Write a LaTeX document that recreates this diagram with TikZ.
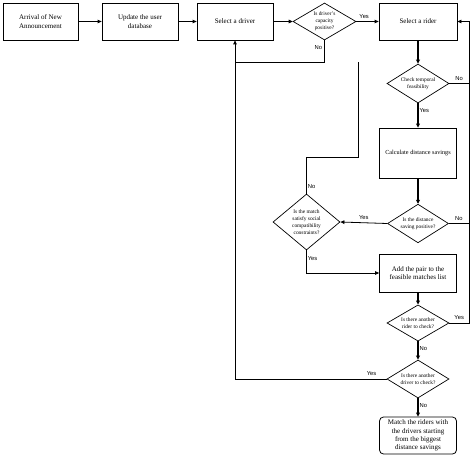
\documentclass[tikz,border=0pt]{standalone}
\usepackage{fontspec}
\setmainfont{Liberation Serif}
\setsansfont{Liberation Sans}
\usetikzlibrary{shapes.geometric,arrows.meta}
\tikzset{
  box/.style={draw, line width=0.8pt, minimum width=76pt, minimum height=37pt, inner sep=1pt, align=center, font=\fontsize{7}{8.3}\selectfont},
  dia/.style={diamond, draw, line width=0.7pt, inner sep=-2pt, align=center, font=\fontsize{5.4}{6.8}\selectfont},
  lbl/.style={font=\sffamily\fontsize{5.8}{6}\selectfont, inner sep=0pt},
  arr/.style={line width=0.8pt, -{Triangle[length=4pt,width=3.6pt]}},
  varr/.style={line width=1.2pt, -{Triangle[length=4pt,width=3.8pt]}},
  ln/.style={line width=0.8pt},
}
\begin{document}
\begin{tikzpicture}[x=1pt,y=-1pt]
\useasboundingbox (0,0) rectangle (474,460);
% top row
\node[box, minimum width=75pt] (n1) at (40.5,21.5) {Arrival of New\\Announcement};
\node[box] (n2) at (140,21.5) {Update the user\\database};
\node[box] (n3) at (235,21.5) {Select a driver};
\node[dia, minimum width=63pt, minimum height=37pt] (d1) at (324.5,21.5) {Is driver's\\capacity\\positive?};
\node[box, minimum width=78pt] (n4) at (418,21.5) {Select a rider};
% right column
\node[dia, minimum width=62pt, minimum height=39pt] (d2) at (418,83.5) {Check temporal\\feasibility};
\node[box, minimum width=77pt, minimum height=50pt, font=\fontsize{6.2}{7.5}\selectfont] (n5) at (418,153) {Calculate distance savings};
\node[dia, minimum width=61pt, minimum height=37pt] (d3) at (418,223.5) {Is the distance\\saving positive?};
\node[dia, minimum width=67pt, minimum height=56pt] (d4) at (306.5,222) {Is the match\\satisfy social\\compatibility\\constraints?};
\node[box, minimum width=77pt, minimum height=38pt] (n6) at (418,273) {Add the pair to the\\feasible matches list};
\node[dia, minimum width=62pt, minimum height=36pt] (d5) at (418,323) {Is there another\\rider to check?};
\node[dia, minimum width=62pt, minimum height=38pt] (d6) at (418,379) {Is there another\\driver to check?};
\node[box, rounded corners=4pt, minimum width=77pt, minimum height=37pt] (n7) at (418,435.5) {Match the riders with\\the drivers starting\\from the biggest\\distance savings};
% helper coordinates
\coordinate (c1) at (235,62);
\coordinate (c2) at (358,62);
\coordinate (c3) at (358,157);
\coordinate (c4) at (469,21.5);
% connectors
\draw[arr] (n1) -- (n2);
\draw[arr] (n2) -- (n3);
\draw[arr] (n3) -- (d1);
\draw[arr] (d1.east) -- node[lbl, above=3pt, pos=0.35] {Yes} (n4.west);
\draw[ln] (d1.south) -- node[lbl, left=2pt, pos=0.35] {No} (d1.south |- c1) -- (c1);
\draw[arr] (d6.west) -- node[lbl, above=3pt, pos=0.1] {Yes} (d6.west -| n3.south) -- (n3.south);
\draw[ln] (d4.north) -- node[lbl, right=1pt, pos=0.2] {No} (d4.north |- c3) -- (c3) -- (c2);
\draw[varr] (n4) -- (d2);
\draw[varr] (d2) -- node[lbl, right=1pt, pos=0.3] {Yes} (n5);
\draw[varr] (n5) -- (d3);
\draw[arr] (d3.west) -- node[lbl, above=3pt] {Yes} (d4.east);
\draw[ln] (d3.east) -- node[lbl, above=3pt] {No} (d3.east -| c4);
\draw[ln] (d2.east) -- node[lbl, above=3pt] {No} (d2.east -| c4);
\draw[arr] (d4.south) -- node[lbl, right=1pt, pos=0.35] {Yes} (d4.south |- n6.west) -- (n6.west);
\draw[varr] (n6) -- (d5);
\draw[arr] (d5.east) -- node[lbl, above=3pt] {Yes} (d5.east -| c4) -- (c4) -- (n4.east);
\draw[varr] (d5) -- node[lbl, right=1pt, pos=0.4] {No} (d6);
\draw[varr] (d6) -- node[lbl, right=1pt, pos=0.4] {No} (n7);
\end{tikzpicture}
\end{document}
